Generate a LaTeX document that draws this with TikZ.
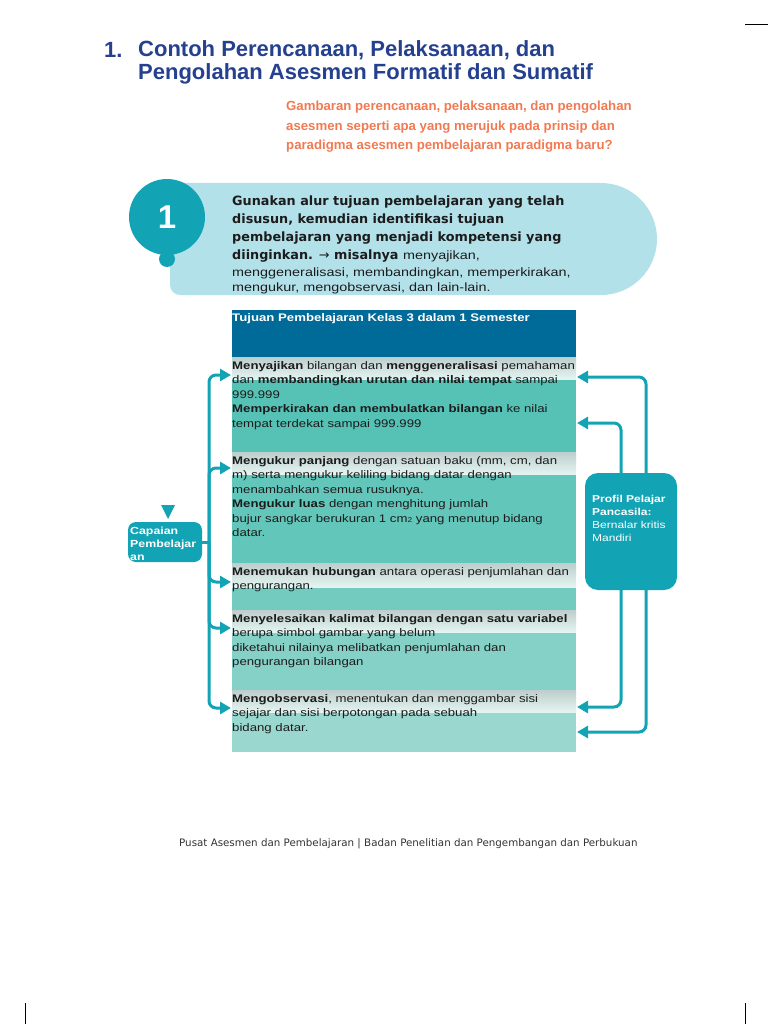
\documentclass[tikz,border=0pt]{standalone}
\usepackage{fontspec}
\setmainfont{Liberation Sans}
\newfontfamily\lebar{Liberation Sans}[FakeStretch=1.2]
\newfontfamily\tebal{DejaVu Sans}
\newfontfamily\kaki{DejaVu Sans}
\usetikzlibrary{arrows.meta}

\definecolor{judul}{HTML}{24408E}
\definecolor{oranye}{HTML}{F27A52}
\definecolor{pita}{HTML}{B3E1EA}
\definecolor{tosca}{HTML}{12A3B5}
\definecolor{kepala}{HTML}{006B98}
\definecolor{baris1}{HTML}{56C2B5}
\definecolor{baris2}{HTML}{63C6BA}
\definecolor{baris3}{HTML}{73CBC0}
\definecolor{baris4}{HTML}{86D1C7}
\definecolor{baris5}{HTML}{9AD8CF}
\definecolor{pitabaris}{HTML}{E4F4F1}
\definecolor{bayang}{HTML}{BDCECC}
\definecolor{tinta}{HTML}{1C1C1C}

\begin{document}
\begin{tikzpicture}[x=1pt,y=-1pt,
  tek/.style={inner sep=0pt, anchor=north west, align=left},
  baris/.style={tek, text=tinta, font=\lebar\fontsize{11}{14.5}\selectfont},
  panah/.style={tosca, line width=3pt, rounded corners=7pt, -{Triangle[length=11pt,width=12pt]}},
  garis/.style={tosca, line width=3pt}]

\useasboundingbox (0,0) rectangle (768,1024);

% Заголовок
\node[tek, text=judul, font=\fontsize{22}{22.5}\selectfont\bfseries] (no) at (104,42.5) {1.};
\node[tek, text=judul, font=\fontsize{22}{22.5}\selectfont\bfseries] (judul) at (138,40.5)
  {Contoh Perencanaan, Pelaksanaan, dan\\Pengolahan Asesmen Formatif dan Sumatif};

% Вопрос
\node[tek, text=oranye, font=\fontsize{13.2}{19.5}\selectfont\bfseries] (tanya) at (286,101)
  {Gambaran perencanaan, pelaksanaan, dan pengolahan\\asesmen seperti apa yang merujuk pada prinsip dan\\paradigma asesmen pembelajaran paradigma baru?};

% Лента с шагом 1
\fill[pita] (170,183) -- (601,183) arc[start angle=-90, end angle=90, radius=56]
  -- (180,295) arc[start angle=90, end angle=180, radius=10] -- cycle;
\node[circle, fill=tosca, minimum size=76pt, inner sep=0pt, text=white,
  font=\fontsize{33}{33}\selectfont\bfseries] (nomor) at (167,217) {1};
\node[circle, fill=tosca, minimum size=16pt, inner sep=0pt] (titik) at (167,259) {};

\node[tek, text=tinta, font=\tebal\bfseries\fontsize{12.8}{17.7}\selectfont] (alur) at (232,196)
  {Gunakan alur tujuan pembelajaran yang telah\\disusun, kemudian identifikasi tujuan\\pembelajaran yang menjadi kompetensi yang\\diinginkan. {\mdseries →} misalnya {\lebar\mdseries\fontsize{12}{15}\selectfont menyajikan,}};
\node[tek, text=tinta, font=\lebar\fontsize{12}{15}\selectfont] (alur2) at (232,268)
  {menggeneralisasi, membandingkan, memperkirakan,\\mengukur, mengobservasi, dan lain-lain.};

% Таблица
\fill[kepala] (232,310) rectangle (576,357);
\node[tek, text=white, font=\lebar\bfseries\fontsize{11}{14.5}\selectfont] (kepala) at (232,313)
  {Tujuan Pembelajaran Kelas 3 dalam 1 Semester};

\foreach \a/\b/\c/\w in {357/379/452/baris1, 452/474/563/baris2, 563/587/610/baris3,
                         610/632/690/baris4, 690/712/752/baris5} {
  \fill[\w] (232,\b) rectangle (576,\c);
  \shade[top color=bayang, bottom color=pitabaris] (232,\a) rectangle (576,\b);
}

\node[baris] (r1) at (232,361) {\textbf{Menyajikan} bilangan dan \textbf{menggeneralisasi} pemahaman\\dan \textbf{membandingkan urutan dan nilai tempat} sampai\\999.999\\\textbf{Memperkirakan dan membulatkan bilangan} ke nilai\\tempat terdekat sampai 999.999};
\node[baris] (r2) at (232,456) {\textbf{Mengukur panjang} dengan satuan baku (mm, cm, dan\\m) serta mengukur keliling bidang datar dengan\\menambahkan semua rusuknya.\\\textbf{Mengukur luas} dengan menghitung jumlah\\bujur sangkar berukuran 1 cm{\fontsize{7}{7}\selectfont 2} yang menutup bidang\\datar.};
\node[baris] (r3) at (232,567) {\textbf{Menemukan hubungan} antara operasi penjumlahan dan\\pengurangan.};
\node[baris] (r4) at (232,614) {\textbf{Menyelesaikan kalimat bilangan dengan satu variabel}\\berupa simbol gambar yang belum\\diketahui nilainya melibatkan penjumlahan dan\\pengurangan bilangan};
\node[baris] (r5) at (232,694) {\textbf{Mengobservasi}, menentukan dan menggambar sisi\\sejajar dan sisi berpotongan pada sebuah\\bidang datar.};

% Capaian Pembelajaran
\fill[tosca] (161,505) -- (175,505) -- (168,519) -- cycle;
\node[fill=tosca, rounded corners=8pt, minimum width=74pt, minimum height=40pt, inner sep=0pt] (cp) at (165,542) {};
\node[tek, text=white, font=\lebar\bfseries\fontsize{10.3}{13}\selectfont] (cptek) at (130,527)
  {Capaian\\Pembelajar\\an};

% Profil Pelajar Pancasila
\node[fill=tosca, rounded corners=13pt, minimum width=92pt, minimum height=117pt, inner sep=0pt] (pp) at (631,531.5) {};
\node[tek, text=white, font=\lebar\fontsize{10}{13}\selectfont] (pptek) at (592,495)
  {\textbf{Profil Pelajar}\\\textbf{Pancasila:}\\Bernalar kritis\\Mandiri};

% Стрелки
\coordinate (simpul) at (209,542);
\coordinate (a1) at (231,375);
\coordinate (a2) at (231,468);
\coordinate (a3) at (231,582);
\coordinate (a4) at (231,628);
\coordinate (a5) at (231,708);
\coordinate (b1) at (577,377);
\coordinate (b2) at (577,423);
\coordinate (b3) at (577,707);
\coordinate (b4) at (577,732);

\draw[garis] (cp.east) -- (simpul);
\foreach \t in {a1,a2,a3,a4,a5}
  \draw[panah] (simpul) |- (\t);

\draw[panah] ([xshift=15pt]pp.north) |- (b1);
\draw[panah] ([xshift=-10pt]pp.north) |- (b2);
\draw[panah] ([xshift=-10pt]pp.south) |- (b3);
\draw[panah] ([xshift=15pt]pp.south) |- (b4);

% Подвал
\node[tek, text=black!80, font=\kaki\fontsize{10.3}{12}\selectfont] (kaki) at (179,838)
  {Pusat Asesmen dan Pembelajaran | Badan Penelitian dan Pengembangan dan Perbukuan};

% Метки обреза
\draw[line width=0.8pt] (745,24) -- (768,24);
\draw[line width=0.8pt] (25,1003) -- (25,1024);
\draw[line width=0.8pt] (745,1003) -- (745,1024);
\end{tikzpicture}
\end{document}
